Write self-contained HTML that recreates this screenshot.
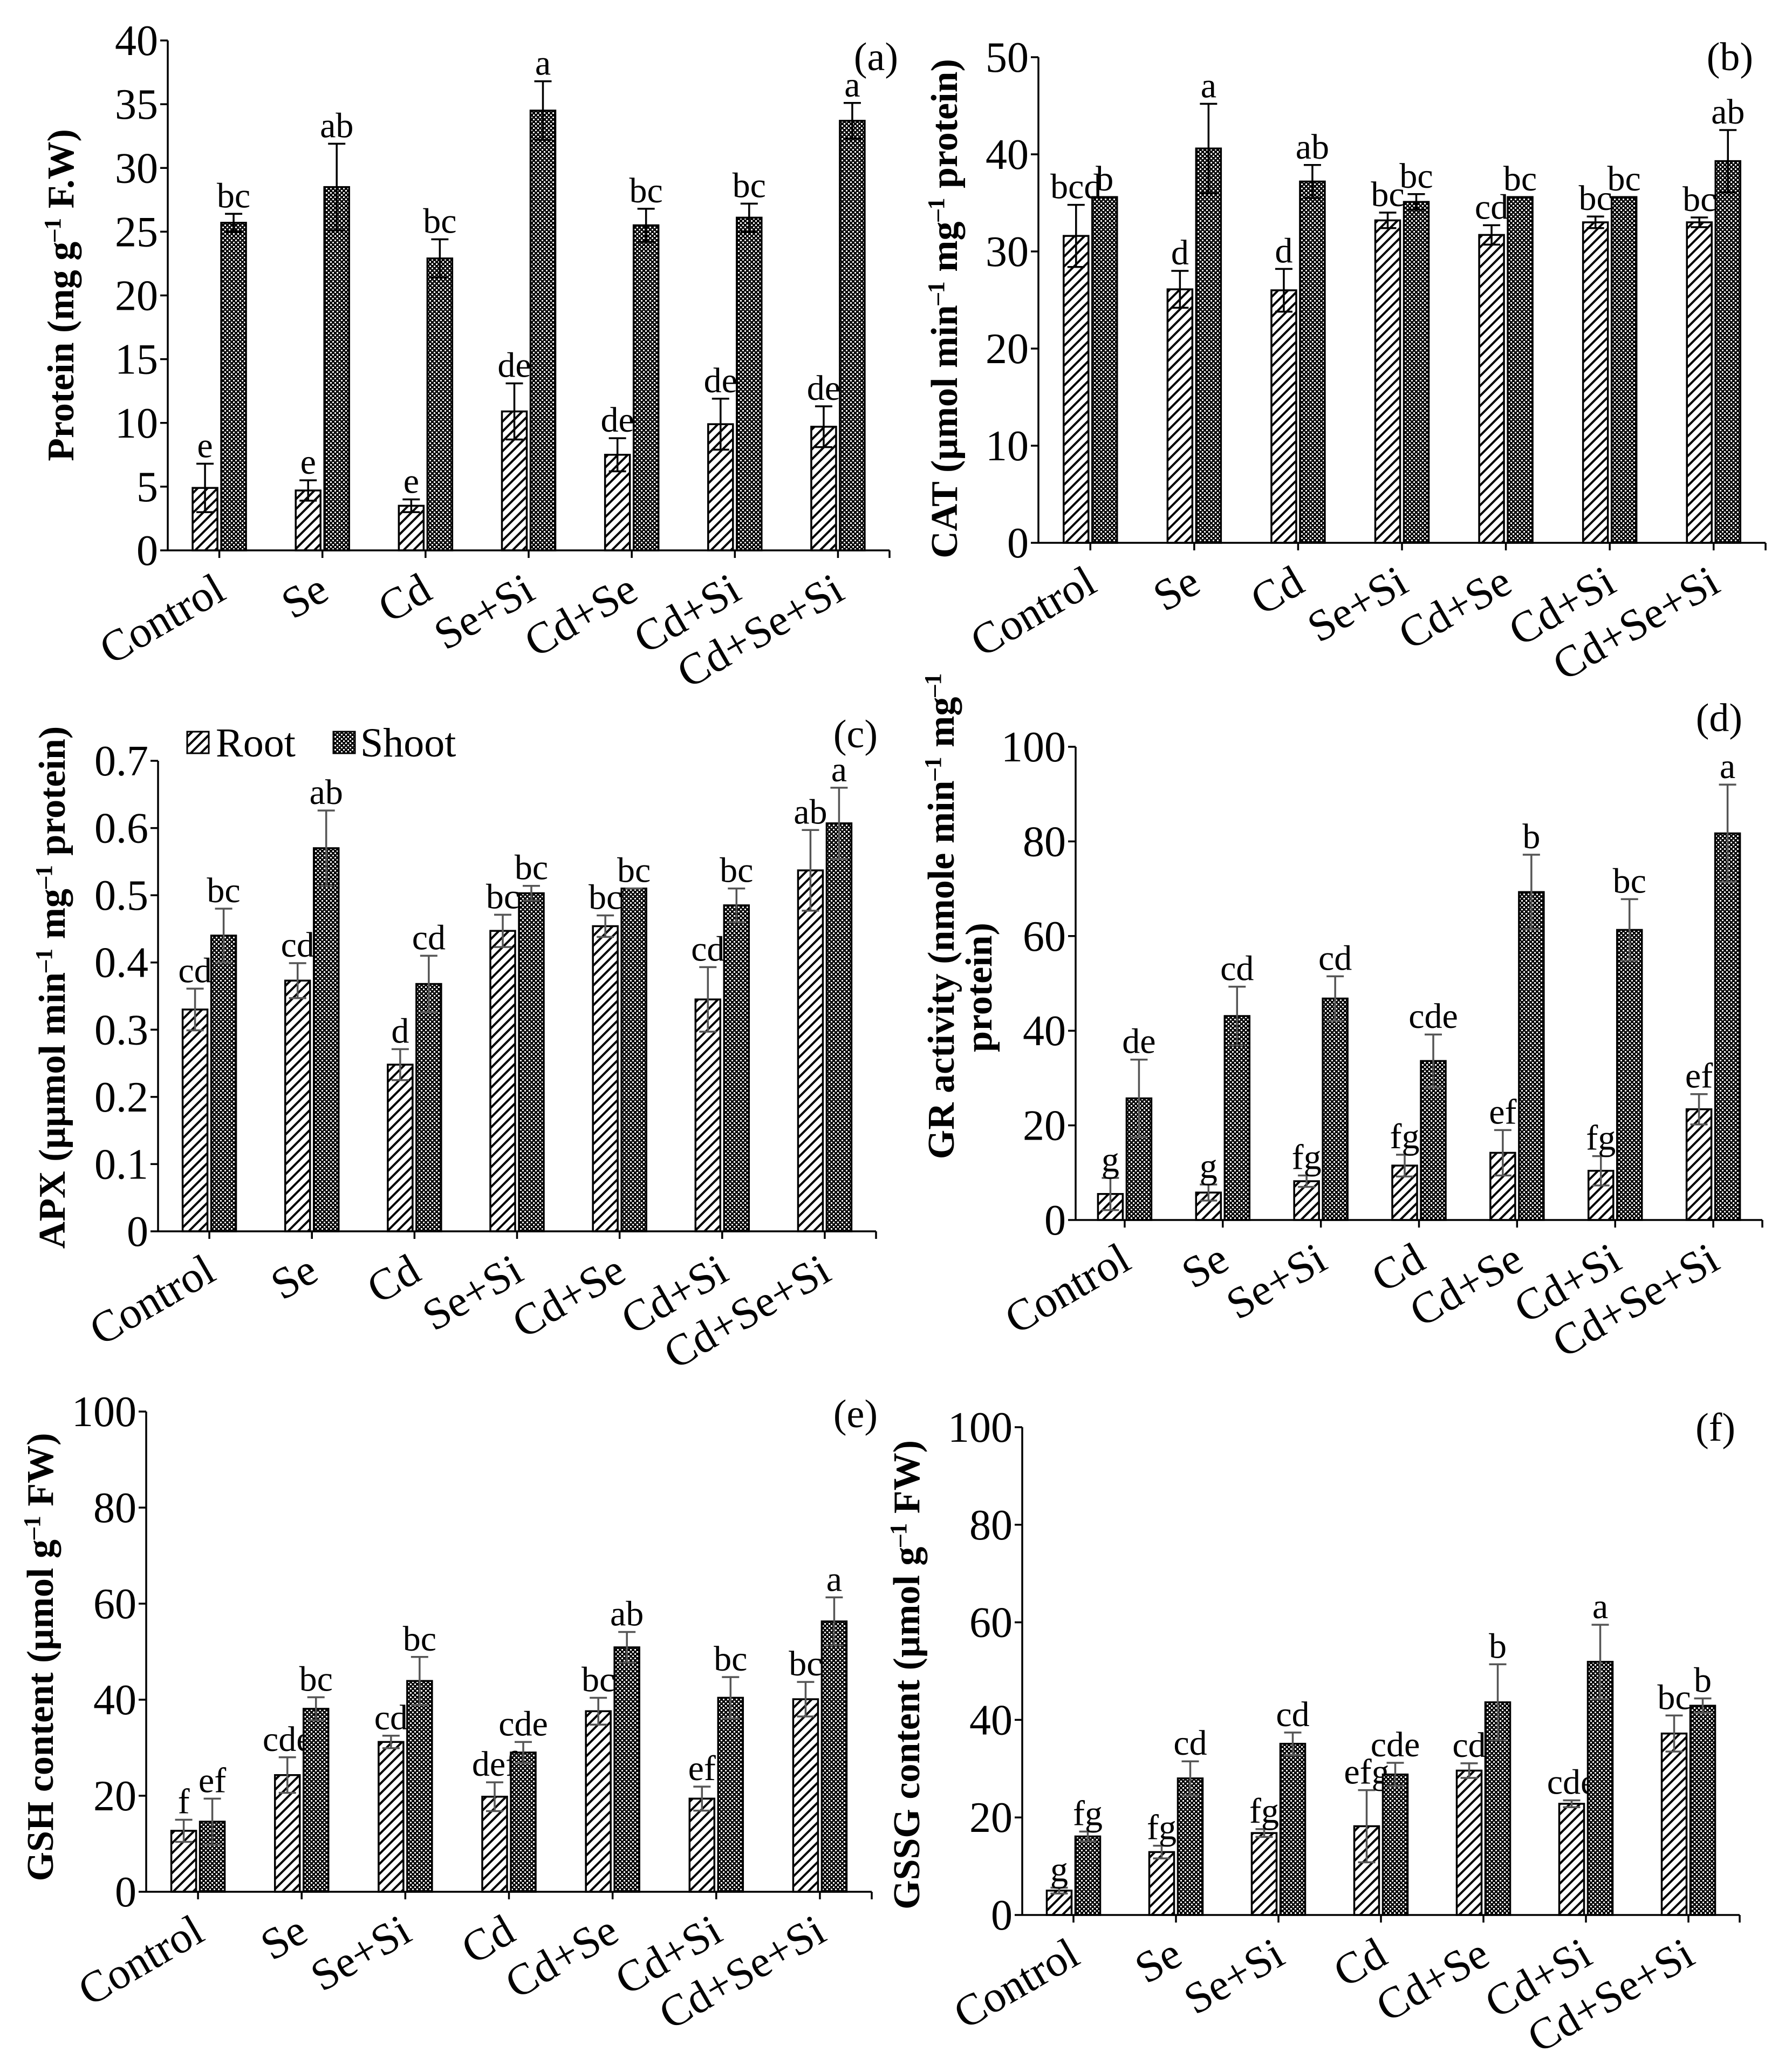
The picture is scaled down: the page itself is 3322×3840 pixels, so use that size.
<!DOCTYPE html>
<html><head><meta charset="utf-8"><style>
html,body{margin:0;padding:0;background:#fff;}
svg{display:block;font-family:"Liberation Serif","Times New Roman",serif;}
</style></head><body>
<svg id="fig" xmlns="http://www.w3.org/2000/svg" width="3322" height="3840" viewBox="0 0 3322 3840">
<defs>
<pattern id="hatch" patternUnits="userSpaceOnUse" width="13" height="13" patternTransform="rotate(45)">
<rect width="13" height="13" fill="#fff"/><rect x="0" y="0" width="4" height="13" fill="#000"/>
</pattern>
<pattern id="check" patternUnits="userSpaceOnUse" width="8" height="8">
<rect width="8" height="8" fill="#000"/><rect x="0" y="0" width="3" height="3" fill="#fff"/><rect x="4" y="4" width="3" height="3" fill="#fff"/>
</pattern>
</defs>
<g id="legend">
<rect x="347" y="1356" width="40" height="40" fill="url(#hatch)" stroke="#000" stroke-width="3"/>
<text x="400" y="1402" font-size="76">Root</text>
<rect x="618" y="1356" width="40" height="40" fill="url(#check)" stroke="#000" stroke-width="3"/>
<text x="668" y="1402" font-size="76">Shoot</text>
</g>
</svg>
<script>
const catsA = ["Control","Se","Cd","Se+Si","Cd+Se","Cd+Si","Cd+Se+Si"];
const catsD = ["Control","Se","Se+Si","Cd","Cd+Se","Cd+Si","Cd+Se+Si"];

const rootA = [4.9,4.7,3.5,10.9,7.5,9.9,9.7];
const rootErrA = [1.9,0.8,0.5,2.2,1.3,2.0,1.6];
const shootA = [25.7,28.5,22.9,34.5,25.5,26.1,33.7];
const shootErrA = [0.7,3.4,1.5,2.3,1.3,1.1,1.4];
const rootLetA = ["e","e","e","de","de","de","de"];
const shootLetA = ["bc","ab","bc","a","bc","bc","a"];
const ticksA = [0,5,10,15,20,25,30,35,40];

const rootB = [31.6,26.1,26.0,33.2,31.7,33.0,33.0];
const rootErrB = [3.2,1.9,2.2,0.8,1.0,0.6,0.5];
const shootB = [35.6,40.6,37.2,35.1,35.6,35.6,39.3];
const shootErrB = [0,4.6,1.7,0.8,0,0,3.2];
const rootLetB = ["bcd","d","d","bc","cd","bc","bc"];
const shootLetB = ["b","a","ab","bc","bc","bc","ab"];
const ticksB = [0,10,20,30,40,50];

const rootC = [0.33,0.373,0.248,0.447,0.454,0.345,0.537];
const rootErrC = [0.031,0.026,0.023,0.024,0.016,0.048,0.06];
const shootC = [0.44,0.57,0.368,0.503,0.51,0.485,0.607];
const shootErrC = [0.04,0.056,0.042,0.011,0,0.025,0.053];
const rootLetC = ["cd","cd","d","bc","bc","cd","ab"];
const shootLetC = ["bc","ab","cd","bc","bc","bc","a"];
const ticksC = [0,0.1,0.2,0.3,0.4,0.5,0.6,0.7];

const rootD = [5.5,5.8,8.2,11.5,14.2,10.4,23.4];
const rootErrD = [3.4,1.7,1.2,2.3,4.8,3.1,3.2];
const shootD = [25.7,43.1,46.8,33.6,69.3,61.3,81.7];
const shootErrD = [8.2,6.2,4.7,5.6,7.9,6.5,10.3];
const rootLetD = ["g","g","fg","fg","ef","fg","ef"];
const shootLetD = ["de","cd","cd","cde","b","bc","a"];
const ticksD = [0,20,40,60,80,100];

const rootE = [12.7,24.3,31.2,19.8,37.6,19.4,40.1];
const rootErrE = [2.3,3.7,1.3,3.0,2.8,2.5,3.6];
const shootE = [14.6,38.1,43.9,29.0,50.9,40.4,56.3];
const shootErrE = [4.8,2.4,5.0,2.2,3.2,4.3,5.0];
const rootLetE = ["f","cde","cd","def","bc","ef","bc"];
const shootLetE = ["ef","bc","bc","cde","ab","bc","a"];

const rootF = [5,12.9,16.8,18.2,29.6,22.8,37.2];
const rootErrF = [0.6,1.3,0.8,7.4,1.5,0.7,3.7];
const shootF = [16.1,28.0,35.1,28.8,43.6,51.9,42.9];
const shootErrF = [1.0,3.5,2.3,2.4,7.8,7.6,1.5];
const rootLetF = ["g","fg","fg","efg","cd","cde","bc"];
const shootLetF = ["fg","cd","cd","cde","b","a","b"];
const ticks100 = [0,20,40,60,80,100];

const NS = "http://www.w3.org/2000/svg";
const svg = document.getElementById("fig");
function mk(tag, attrs, parent){
  const e = document.createElementNS(NS, tag);
  for (const k in attrs) e.setAttribute(k, attrs[k]);
  (parent||svg).appendChild(e);
  return e;
}

function panel(p){
  const g = mk("g", {});
  
  
  const ymax = p.ticks[p.ticks.length-1];
  const yS = v => p.y0 - (v/ymax)*(p.y0 - p.yTop);
  const cw = (p.xR - p.xL)/p.cats.length;
  const cx = i => p.xL + cw*(i+0.5);
  const bw = 46, gap = 3.5;
  const errCol = p.errCol;
  p.cats.forEach((c,i)=>{
    [[p.root,p.rootErr,p.rootLet,"url(#hatch)",-1,"root"],[p.shoot,p.shootErr,p.shootLet,"url(#check)",1,"shoot"]].forEach(s=>{
      const v = s[0][i], er = s[1][i];
      const x = s[4] < 0 ? cx(i)-gap-bw : cx(i)+gap;
      const top = yS(v);
      const r = mk("rect",{x:x,y:top,width:bw,height:p.y0-top,fill:s[3],stroke:"#000","stroke-width":3.5},g);
      
      
      const xm = x + bw/2;
      const eTop = yS(v+er), eBot = yS(v-er);
      const eb = mk("path",{d:`M${xm},${eTop}V${eBot}M${xm-16},${eTop}H${xm+16}M${xm-16},${eBot}H${xm+16}`,stroke:errCol,"stroke-width":3.5,fill:"none"},g);
      
      
      const t = mk("text",{x:xm,y:eTop-12,"font-size":66,"text-anchor":"middle"},g);
      t.textContent = s[2][i];
      
      
    });
    const lb = mk("text",{x:0,y:0,"font-size":82,"text-anchor":"end",transform:`translate(${cx(i)+16},${p.y0+88}) rotate(-30)`},g);
    lb.textContent = c;
    
    
  });
  let d = `M${p.xL},${p.yTop}V${p.y0}H${p.xR}`;
  p.ticks.forEach(t=>{ d += `M${p.xL-14},${yS(t)}H${p.xL}`; });
  p.cats.forEach((c,i)=>{ d += `M${cx(i)},${p.y0}v14`; });
  d += `M${p.xR},${p.y0}v14`;
  const ax = mk("path",{d:d,stroke:"#000","stroke-width":3.5,fill:"none"},g);
  
  
  p.ticks.forEach((t,k)=>{
    const tx = mk("text",{x:p.xL-18,y:yS(t)+27,"font-size":80,"text-anchor":"end"},g);
    tx.textContent = String(t);
    
    
  });
  p.title.forEach((line,k)=>{
    const tt = mk("text",{x:0,y:0,"font-size":70,"font-weight":"bold","text-anchor":"middle",transform:`translate(${line[1]},${line[2]}) rotate(-90)`},g);
    tt.innerHTML = line[0];
    
    
  });
  const pl = mk("text",{x:p.lab[0],y:p.lab[1],"font-size":74,"text-anchor":"end"},g);
  pl.textContent = "(" + p.id + ")";
  
  
}
const sup = '<tspan baseline-shift="super" font-size="44">–1</tspan>';
panel({id:"a",cats:catsA,root:rootA,rootErr:rootErrA,shoot:shootA,shootErr:shootErrA,rootLet:rootLetA,shootLet:shootLetA,ticks:ticksA,
  xL:311,xR:1649,yTop:75,y0:1020,errCol:"#000",title:[["Protein (mg g"+sup+" F.W)",136,547]],lab:[1665,130]});
panel({id:"b",cats:catsA,root:rootB,rootErr:rootErrB,shoot:shootB,shootErr:shootErrB,rootLet:rootLetB,shootLet:shootLetB,ticks:ticksB,
  xL:1925,xR:3273,yTop:106,y0:1006,errCol:"#000",title:[["CAT (µmol min"+sup+" mg"+sup+" protein)",1774,572]],lab:[3250,130]});
panel({id:"c",cats:catsA,root:rootC,rootErr:rootErrC,shoot:shootC,shootErr:shootErrC,rootLet:rootLetC,shootLet:shootLetC,ticks:ticksC,
  xL:293,xR:1624,yTop:1410,y0:2282,errCol:"#555",title:[["APX  (µµmol min"+sup+" mg"+sup+" protein)",120,1830]],lab:[1627,1385]});
panel({id:"d",cats:catsD,root:rootD,rootErr:rootErrD,shoot:shootD,shootErr:shootErrD,rootLet:rootLetD,shootLet:shootLetD,ticks:ticksD,
  xL:1994,xR:3267,yTop:1384,y0:2261,errCol:"#555",title:[["GR activity  (nmole min"+sup+" mg"+sup,1768,1698],["protein)",1838,1830]],lab:[3230,1355]});
panel({id:"e",cats:catsD,root:rootE,rootErr:rootErrE,shoot:shootE,shootErr:shootErrE,rootLet:rootLetE,shootLet:shootLetE,ticks:ticks100,
  xL:271,xR:1616,yTop:2616,y0:3506,errCol:"#555",title:[["GSH content (µmol g"+sup+" FW)",98,3071]],lab:[1627,2645]});
panel({id:"f",cats:catsD,root:rootF,rootErr:rootErrF,shoot:shootF,shootErr:shootErrF,rootLet:rootLetF,shootLet:shootLetF,ticks:ticks100,
  xL:1895,xR:3225,yTop:2645,y0:3549,errCol:"#555",title:[["GSSG  content (µmol g"+sup+" FW)",1704,3104]],lab:[3217,2670]});
</script>
</body></html>
